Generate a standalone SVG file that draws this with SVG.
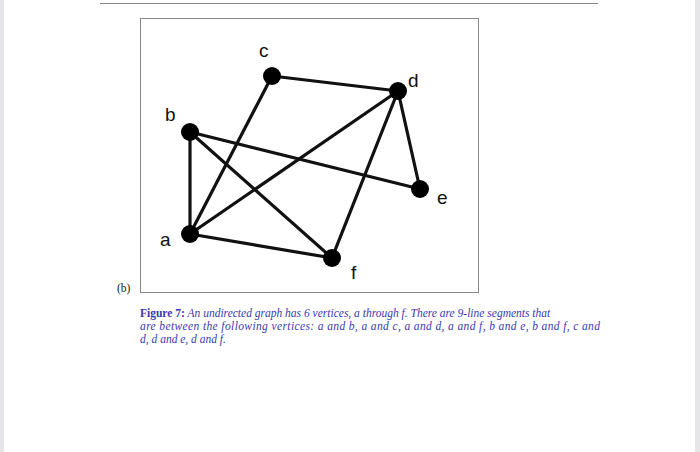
<svg xmlns="http://www.w3.org/2000/svg" width="700" height="452" viewBox="0 0 700 452">
<style>
.n{fill:#000}
.l{font-family:"Liberation Sans",Arial,sans-serif;font-size:19px;fill:#111}
.e{stroke:#111;stroke-width:3.2}
.cap{font-family:"Liberation Serif","Times New Roman",serif;font-size:11.5px;fill:#3a3ab0;font-style:italic}
</style>
<rect width="700" height="452" fill="#fff"/>
<rect x="0" y="0" width="4" height="452" fill="#e6e6ea"/>
<rect x="695" y="0" width="5" height="452" fill="#e6e6ea"/>
<line x1="100" y1="3.5" x2="598" y2="3.5" stroke="#888" stroke-width="1"/>
<rect x="140.5" y="18.5" width="338" height="274" fill="none" stroke="#888" stroke-width="1"/>
<g id="edges">
<line class="e" x1="190" y1="234" x2="190" y2="132"/>
<line class="e" x1="190" y1="234" x2="272" y2="76"/>
<line class="e" x1="190" y1="234" x2="398" y2="91"/>
<line class="e" x1="190" y1="234" x2="332" y2="258"/>
<line class="e" x1="190" y1="132" x2="420" y2="189"/>
<line class="e" x1="190" y1="132" x2="332" y2="258"/>
<line class="e" x1="272" y1="76" x2="398" y2="91"/>
<line class="e" x1="398" y1="91" x2="420" y2="189"/>
<line class="e" x1="398" y1="91" x2="332" y2="258"/>
</g>
<g id="a"><circle class="n" cx="190" cy="234" r="9"/><text class="l" x="160" y="246">a</text></g>
<g id="b"><circle class="n" cx="190" cy="132" r="9"/><text class="l" x="165" y="121">b</text></g>
<g id="c"><circle class="n" cx="272" cy="76" r="9"/><text class="l" x="259" y="57">c</text></g>
<g id="d"><circle class="n" cx="398" cy="91" r="9"/><text class="l" x="408" y="87">d</text></g>
<g id="e"><circle class="n" cx="420" cy="189" r="9"/><text class="l" x="437" y="204">e</text></g>
<g id="f"><circle class="n" cx="332" cy="258" r="9"/><text class="l" x="351" y="279">f</text></g>
<text x="117" y="292" font-family="Liberation Serif,serif" font-size="11.5" fill="#222">(b)</text>
<text class="cap" x="140" y="317"><tspan font-style="normal" font-weight="bold">Figure 7:</tspan>   An undirected graph has 6 vertices, a through f.  There are 9-line segments that</text>
<text class="cap" x="140" y="330" textLength="460">are between the following vertices: a and b, a and c, a and d, a and f, b and e, b and f, c and</text>
<text class="cap" x="140" y="343">d, d and e, d and f.</text>
</svg>
